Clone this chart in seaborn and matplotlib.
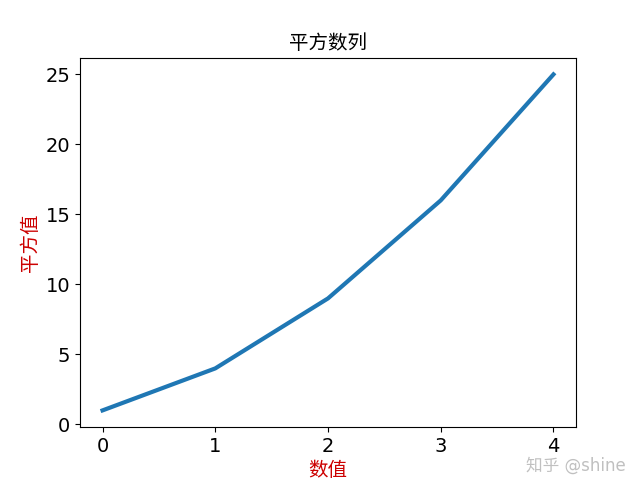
import matplotlib
matplotlib.use("Agg")
import matplotlib.pyplot as plt
import seaborn as sns
import pandas as pd

values = [0, 1, 2, 3, 4]
squares = [1, 4, 9, 16, 25]

plt.rcParams['font.family'] = ['DejaVu Sans', 'Noto Sans CJK SC']
plt.rcParams['axes.unicode_minus'] = False

df = pd.DataFrame({"x": values, "y": squares})
fig, ax = plt.subplots(figsize=(6.4, 4.8), dpi=100)
sns.lineplot(data=df, x="x", y="y", ax=ax, linewidth=3, color="#1f77b4")
ax.set_title("平方数列", fontsize=14)
ax.set_xlabel("数值", fontsize=14, color="#cc0000")
ax.set_ylabel("平方值", fontsize=14, color="#cc0000")
ax.tick_params(axis="both", labelsize=14)
ax.set_xticks(values)
fig.text(0.978, 0.03, "知乎 @shine", fontsize=12, color="#c0c0c0",
         ha="right", va="center")
fig.savefig("out.png", dpi=100)
